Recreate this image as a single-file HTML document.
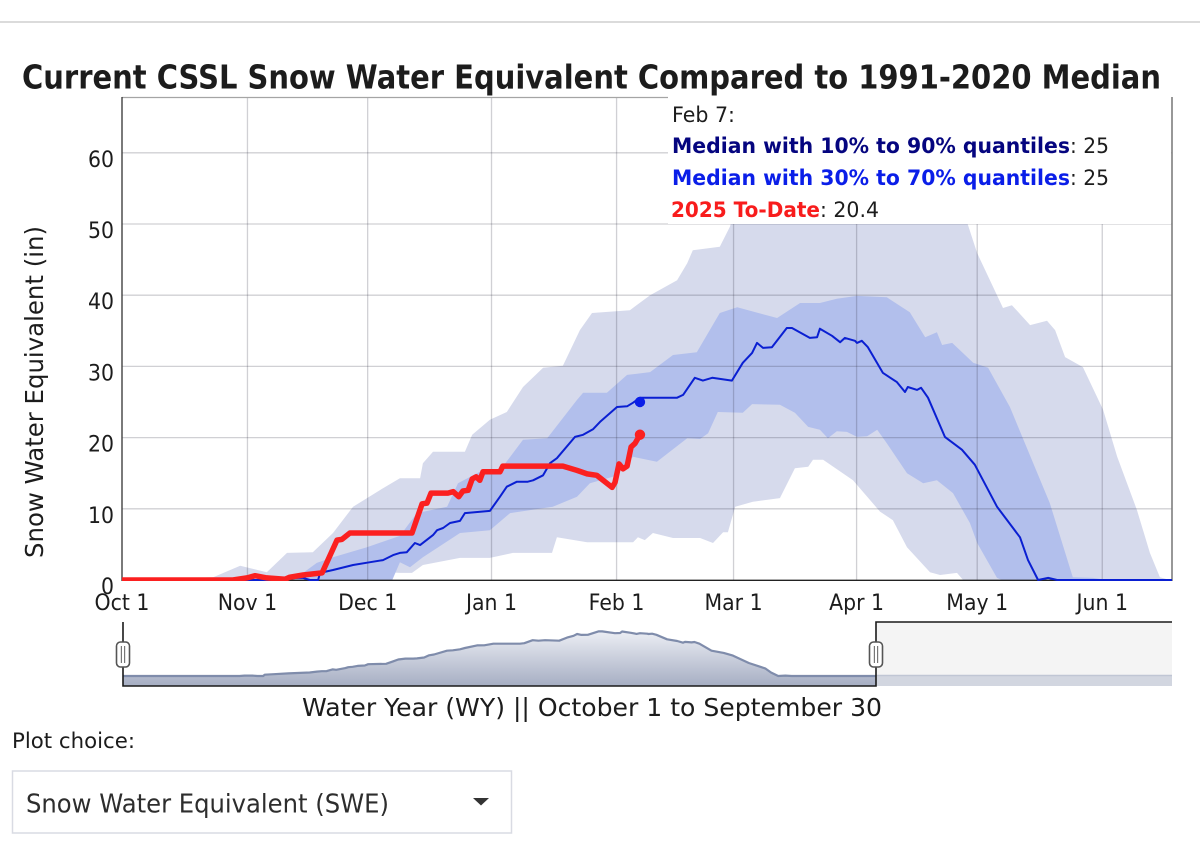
<!DOCTYPE html>
<html>
<head>
<meta charset="utf-8">
<title>CSSL Snow Water Equivalent</title>
<style>
html,body{margin:0;padding:0;background:#fff;width:1200px;height:855px;overflow:hidden}
svg{display:block}
text{font-family:"DejaVu Sans","Liberation Sans",sans-serif;fill:#1c1c1c}
</style>
</head>
<body>
<svg id="chart" width="1200" height="855" viewBox="0 0 1200 855" xmlns="http://www.w3.org/2000/svg">
  <defs>
    <linearGradient id="navGrad" x1="0" y1="0" x2="0" y2="1">
      <stop offset="0" stop-color="#eceef4"/>
      <stop offset="1" stop-color="#a6aec3"/>
    </linearGradient>
    <clipPath id="plotClip"><rect x="122" y="97" width="1050" height="484"/></clipPath>
    <clipPath id="navClip"><rect x="123" y="622" width="1049" height="64"/></clipPath>
  </defs>

  <line x1="0" y1="22" x2="1200" y2="22" stroke="#cfcfcf" stroke-width="1.5"/>

  <g id="bands" clip-path="url(#plotClip)"></g>
  <g id="grid"></g>

  <rect x="668" y="96" width="503" height="128" fill="#fff"/>
  <line x1="122" y1="97.5" x2="668" y2="97.5" stroke="#a5a5a5" stroke-width="1.2"/>
  <line x1="1172" y1="97" x2="1172" y2="581" stroke="#777" stroke-width="1.5"/>
  <line x1="122" y1="97" x2="122" y2="581" stroke="#333" stroke-width="1.3"/>
  <line x1="122" y1="580.3" x2="1172" y2="580.3" stroke="#222" stroke-width="1.3"/>

  <text x="22" y="88.5" font-size="33" font-weight="700" textLength="1139" lengthAdjust="spacingAndGlyphs">Current CSSL Snow Water Equivalent Compared to 1991-2020 Median</text>

  <g id="series" clip-path="url(#plotClip)"></g>
  <g id="axisLabels"></g>

  <text transform="translate(43,392) rotate(-90)" text-anchor="middle" font-size="25" textLength="332" lengthAdjust="spacingAndGlyphs">Snow Water Equivalent (in)</text>

  <g>
    <text x="672" y="122" font-size="21.5" textLength="63" lengthAdjust="spacingAndGlyphs">Feb 7:</text>
    <text x="672" y="153" font-size="21.5" font-weight="700" style="fill:#05057f" textLength="398" lengthAdjust="spacingAndGlyphs">Median with 10% to 90% quantiles</text>
    <text x="1070" y="153" font-size="21.5" textLength="39" lengthAdjust="spacingAndGlyphs">: 25</text>
    <text x="672" y="185" font-size="21.5" font-weight="700" style="fill:#0a1ee8" textLength="398" lengthAdjust="spacingAndGlyphs">Median with 30% to 70% quantiles</text>
    <text x="1070" y="185" font-size="21.5" textLength="39" lengthAdjust="spacingAndGlyphs">: 25</text>
    <text x="671" y="217" font-size="21.5" font-weight="700" style="fill:#f81c1c" textLength="149" lengthAdjust="spacingAndGlyphs">2025 To-Date</text>
    <text x="820" y="217" font-size="21.5" textLength="59" lengthAdjust="spacingAndGlyphs">: 20.4</text>
  </g>

  <g id="navigator"></g>

  <text x="302" y="716" font-size="25" textLength="580" lengthAdjust="spacingAndGlyphs">Water Year (WY) || October 1 to September 30</text>

  <text x="12" y="748" font-size="21.5" textLength="123" lengthAdjust="spacingAndGlyphs">Plot choice:</text>
  <g>
    <rect x="12.5" y="771" width="499" height="62" fill="#fff" stroke="#d9dbe3" stroke-width="1.5"/>
    <text x="26" y="812.5" font-size="25.5" style="fill:#2d2d2d" textLength="363" lengthAdjust="spacingAndGlyphs">Snow Water Equivalent (SWE)</text>
    <polygon points="473,798 489,798 481,805.5" fill="#333"/>
  </g>
</svg>

<script>
const xTickLabels = ["Oct 1","Nov 1","Dec 1","Jan 1","Feb 1","Mar 1","Apr 1","May 1","Jun 1"];
const xTickDays = [0,31.1,60.9,91.6,122.6,151.6,182.1,212,243];
const yTickValues = [0,10,20,30,40,50,60];

const q90Days = [0,22.6,29.3,35.9,40.9,47.3,52.3,57.3,64.7,68.9,73.9,74.6,77.1,85,86.8,91.2,95.4,99.4,104.4,109.3,113.5,116.5,125.9,130.9,137.6,140.1,141.5,148.2,150.7,153,160,175,200,207.7,209.7,212,218.4,220.6,225.1,229.3,231.3,233.8,238.2,243.2,246.7,251.6,254.8,257.3,259.8,261];
const q90Values = [0,0.4,2,1.1,3.8,3.9,6.6,10.3,12.9,14.3,14.3,16.4,18,18,20.4,22.5,23.6,27.1,29.8,30.1,35.1,37.5,37.9,40,42.1,44.5,46.3,46.8,49.6,54,56,57,56,53,49.9,45.9,38.2,38.6,35.8,36.4,35.1,31.3,29.9,23.9,17.3,9.8,3.8,0.4,0,0];

const q10Days = [0,65.2,65.9,68.9,71.9,74.6,83.8,91.2,96.9,106.6,107.8,115.3,126.7,127.9,129.6,131.6,136.6,143.3,146.5,149,150.2,152,156.4,163.1,166.8,170.1,171.3,173.8,181.2,187.9,191.1,194.6,200.3,202.8,207,208.5,261];
const q10Values = [0,0,1.1,1,1,2.1,3.1,3.1,3.8,3.8,6,5.3,5.3,6,5.6,6.6,5.9,5.9,5.2,6.7,6.7,10.3,11,11.5,15.7,15.9,16.9,16.9,14,9.6,8.4,4.6,1.1,0.7,1,0,0];

const q70Days = [0,40,43.4,48.3,52.3,60.7,68.9,73.1,80.6,83.3,88.7,93.7,99.4,105.4,112.8,114.3,120.2,125.2,130.9,136.6,142.5,148.2,152.5,162.4,168.1,173,177.2,182.2,189.6,195.3,199.1,202,203.3,205.8,211,214.7,220.1,230,235.7,240.7,244.2,261];
const q70Values = [0,0,0.4,2.4,3.2,4.6,6.2,9.4,10.3,13.6,15.2,15.4,19.7,19.9,25.3,26.3,26.3,28.8,29.2,31.6,32,37.5,38.3,36.8,38.9,38.9,39.5,39.9,39.7,37.6,34.1,34.8,33,33.3,30.5,29.8,24.3,10.8,0.4,0.3,0,0];

const q30Days = [0,67,68.9,71.4,74.6,83.8,91.2,96.2,106.8,112.8,116,121.7,126.7,132.6,140.1,143.3,145.3,147.7,153.9,156.2,163.1,166.8,170.1,173,175,177.2,179.7,182.2,184.7,187.2,189.6,194.6,198.6,202,206,210.2,212,216.9,218.1,261];
const q30Values = [0,0,2.5,1.8,3.2,6.6,7,9.4,10.3,11.7,13.6,14.5,17.3,16.6,19.9,19.8,20.6,23.6,23.5,24.7,24.6,23.5,21.5,21.1,19.9,20.9,20.8,20.1,20.2,21.1,19.2,15,13.6,14,12.2,8,5.2,0.3,0,0];

const medianDays = [0,40.4,42.1,44.9,46.6,48.6,49.1,52.3,57.3,61.5,64.7,67.2,68.9,70.6,72.6,73.9,77.1,78.1,79.6,81.3,83.8,85,91.2,93.7,95.4,97.9,100.6,101.9,104.4,106.1,107.8,112.3,114.3,116.8,118.5,122.7,125.2,126.7,128.4,135.1,137.6,139.1,142,144,146.3,151.2,153.9,156.2,157.4,158.9,161.1,164.8,166.1,170.5,172.3,173,176,178,179.2,181.7,182.2,183.4,184.9,188.6,192.1,194.1,194.8,197.1,198.1,199.8,204,208.2,211.4,216.9,222.6,224.6,227.1,229.6,231.8,261];
const medianValues = [0,0,0.3,0.3,0,0,1,1.4,2.1,2.5,2.8,3.5,3.8,3.9,5.2,4.9,6.3,7,7.3,8,8.3,9.4,9.7,11.7,13.1,13.8,13.8,14,14.7,16.4,17.1,20.1,20.4,21.2,22.2,24.3,24.4,24.9,25.6,25.6,25.6,26,28.4,28,28.4,28,30.5,31.9,33.3,32.6,32.7,35.4,35.4,34,34.1,35.3,34.3,33.4,34,33.6,33.3,33.6,32.7,29.1,27.8,26.4,27.1,26.7,27,25.6,20.1,18.3,16.2,10.3,6,2.8,0,0.3,0,0];

const toDateDays = [0,27.5,31,33,35.9,40.4,41.6,44.9,49.6,53.3,54.5,56.5,71.9,74.4,75.6,76.6,80.8,82.1,83.5,84.5,85.8,86.8,87.8,88.7,89.5,93.7,94.4,109.3,112.8,115.3,117.7,121.5,122.2,123.2,124.2,125.2,126.2,127.2,128.4];
const toDateValues = [0,0,0.3,0.6,0.3,0.1,0.4,0.7,1,5.6,5.7,6.6,6.6,10.7,10.8,12.2,12.2,12.4,11.7,12.5,12.6,14.2,14.5,14,15.2,15.2,16,16,15.4,14.9,14.7,13,13.7,16.3,15.6,16,18.7,19.2,20.4];

const currentDay = 128.4;
const currentMedian = 25;
const currentToDate = 20.4;

const NS = "http://www.w3.org/2000/svg";
function xScale(d){ return 122 + d * 4.034; }
function yScale(v){ return 580 - v * 7.12; }
function navX(d){ return 123 + d * 2.885; }
function navY(v){ return 676 - v * 1.26; }

function make(tag, parent, attrs){
  const el = document.createElementNS(NS, tag);
  for (const k in attrs) el.setAttribute(k, attrs[k]);
  parent.appendChild(el);
  return el;
}
function linePath(days, vals, fx, fy){
  return days.map((d,i)=>(i?"L":"M")+fx(d).toFixed(1)+" "+fy(vals[i]).toFixed(1)).join(" ");
}
function bandPath(upD, upV, loD, loV){
  const top = upD.map((d,i)=>xScale(d).toFixed(1)+" "+yScale(upV[i]).toFixed(1));
  const bottom = loD.map((d,i)=>xScale(d).toFixed(1)+" "+yScale(loV[i]).toFixed(1)).reverse();
  return "M"+top.concat(bottom).join(" L")+" Z";
}
function squeeze(t){
  t.setAttribute("textLength", (t.getComputedTextLength()*0.93).toFixed(1));
  t.setAttribute("lengthAdjust", "spacingAndGlyphs");
}

const bands = document.getElementById("bands");
const band90 = make("path", bands, {d:bandPath(q90Days,q90Values,q10Days,q10Values), fill:"#d6daec"});


const band70 = make("path", bands, {d:bandPath(q70Days,q70Values,q30Days,q30Values), fill:"#b2bfec"});



const grid = document.getElementById("grid");
const labels = document.getElementById("axisLabels");
xTickDays.forEach((d,i)=>{
  if (i>0){
    const g = make("line", grid, {x1:xScale(d), x2:xScale(d), y1:97, y2:580, stroke:"rgba(40,40,60,0.22)", "stroke-width":1.3});
    
    
  }
  const t = make("text", labels, {x:xScale(d), y:610, "text-anchor":"middle", "font-size":22});
  
  
  t.textContent = xTickLabels[i];
  squeeze(t);
});
yTickValues.forEach(v=>{
  if (v>0){
    const g = make("line", grid, {x1:122, x2:1172, y1:yScale(v), y2:yScale(v), stroke:"rgba(40,40,60,0.22)", "stroke-width":1.3});
    
    
  }
  const t = make("text", labels, {x:114, y:yScale(v)+14, "text-anchor":"end", "font-size":22});
  
  
  t.textContent = String(v);
  squeeze(t);
});

const series = document.getElementById("series");
const medianLine = make("path", series, {d:linePath(medianDays,medianValues,xScale,yScale), fill:"none", stroke:"#0a1fd2", "stroke-width":2, "stroke-linejoin":"round"});


const toDateLine = make("path", series, {d:linePath(toDateDays,toDateValues,xScale,yScale), fill:"none", stroke:"#fb2020", "stroke-width":5.5, "stroke-linejoin":"round", "stroke-linecap":"round"});


const medianMarker = make("circle", series, {cx:xScale(currentDay), cy:yScale(currentMedian), r:5.2, fill:"#0a1ee8"});


const toDateMarker = make("circle", series, {cx:xScale(currentDay), cy:yScale(currentToDate), r:5.2, fill:"#fb2020"});



const nav = document.getElementById("navigator");
const navDays = medianDays.concat([365]);
const navVals = medianValues.concat([0]);
const navLinePath = linePath(navDays, navVals, navX, navY);
const navFill = make("path", nav, {d:navLinePath+" L"+navX(365).toFixed(1)+" 686 L123 686 Z", fill:"url(#navGrad)", "clip-path":"url(#navClip)"});


const navLine = make("path", nav, {d:navLinePath, fill:"none", stroke:"#7f8cab", "stroke-width":2.2, "stroke-linejoin":"round", "clip-path":"url(#navClip)"});


const shadeTop = make("rect", nav, {x:876, y:622, width:296, height:54, fill:"#f4f4f4"});


const shadeBase = make("rect", nav, {x:876, y:675, width:296, height:11, fill:"#d2d6e0"});


const shadeLine = make("line", nav, {x1:876, x2:1172, y1:675.5, y2:675.5, stroke:"#c0c6d4", "stroke-width":1.6});


const shadeEdge = make("path", nav, {d:"M123 622 V686 H876 V622 H1172", fill:"none", stroke:"#1a1a1a", "stroke-width":1.6});



[123,876].forEach(hx=>{
  const h = make("rect", nav, {x:hx-6.5, y:642, width:13, height:25, rx:4, fill:"#fff", stroke:"#555", "stroke-width":1.6});
  
  
  [-1.6,1.6].forEach(o=>{
    const g = make("line", nav, {x1:hx+o, x2:hx+o, y1:646, y2:663, stroke:"#777", "stroke-width":1.2});
    
    
  });
});
</script>
</body>
</html>
